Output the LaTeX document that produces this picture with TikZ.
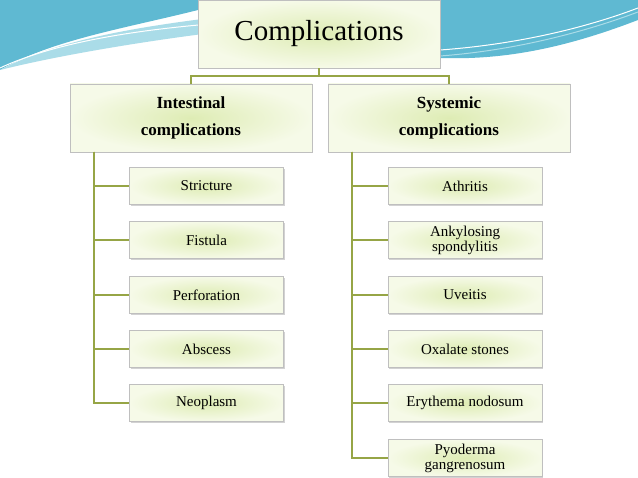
\documentclass[tikz,border=0pt]{standalone}
\usepackage{fontspec}
\setmainfont{Liberation Serif}
\usetikzlibrary{shadows}
\definecolor{wave}{RGB}{95,185,210}
\definecolor{wavel}{RGB}{170,220,232}
\definecolor{boxin}{RGB}{222,236,180}
\definecolor{boxout}{RGB}{246,250,232}
\definecolor{lnc}{RGB}{150,165,70}
\begin{document}
\begin{tikzpicture}[x=1pt,y=-1pt,
  bx/.style={draw=black!25,line width=0.6pt,inner color=boxin,outer color=boxout,
    drop shadow={shadow xshift=1pt,shadow yshift=-1.5pt,opacity=0.35}},
  ln/.style={draw=lnc,line width=1.6pt}]
\useasboundingbox[fill=white] (0,0) rectangle (638,478);
% background waves
\fill[wave] (0,0) -- (235,0) .. controls (150,25) and (60,35) .. (0,70) -- cycle;
\fill[wavel] (0,70) .. controls (60,38) and (150,25) .. (235,15) -- (235,30) .. controls (150,40) and (60,55) .. (0,70) -- cycle;
\fill[wave] (440,0) -- (638,0) -- (638,20) .. controls (560,50) and (500,60) .. (440,58) -- cycle;
\draw[white,line width=1pt] (0,68) .. controls (60,40) and (150,28) .. (236,22);
\draw[white,line width=1pt] (440,50) .. controls (510,45) and (580,30) .. (638,8);
\draw[wavel,line width=1pt] (440,56) .. controls (520,50) and (590,30) .. (638,12);
\node[bx,minimum width=242pt,minimum height=68pt] (top) at (319,34) {\fontsize{29}{31}\selectfont Complications};
\node[bx,minimum width=242pt,minimum height=68pt,align=center,font=\fontsize{17}{27}\selectfont\bfseries] (int) at (191,118) {Intestinal\\complications};
\node[bx,minimum width=242pt,minimum height=68pt,align=center,font=\fontsize{17}{27}\selectfont\bfseries] (sys) at (449,118) {Systemic\\complications};
\coordinate (j) at (319,76);
\draw[ln] (top.south) -- (j);
\draw[ln] (int.north) |- (j) -| (sys.north);
\tikzset{cb/.style={bx,minimum width=154pt,minimum height=37pt,align=center,font=\fontsize{15}{15}\selectfont}}
\foreach \n/\t/\y in {a/Stricture/186,b/Fistula/240,c/Perforation/295,d/Abscess/349,e/Neoplasm/403}{
  \node[cb] (L\n) at (206.5,\y) {\t};
  \draw[ln] (94,152) |- (L\n.west);
}
\foreach \n/\t/\y in {a/Athritis/186,b/{Ankylosing\\spondylitis}/240,c/Uveitis/295,d/Oxalate stones/349,e/Erythema nodosum/403,f/{Pyoderma\\gangrenosum}/458}{
  \node[cb] (R\n) at (465,\y) {\t};
  \draw[ln] (352,152) |- (R\n.west);
}
\end{tikzpicture}
\end{document}
